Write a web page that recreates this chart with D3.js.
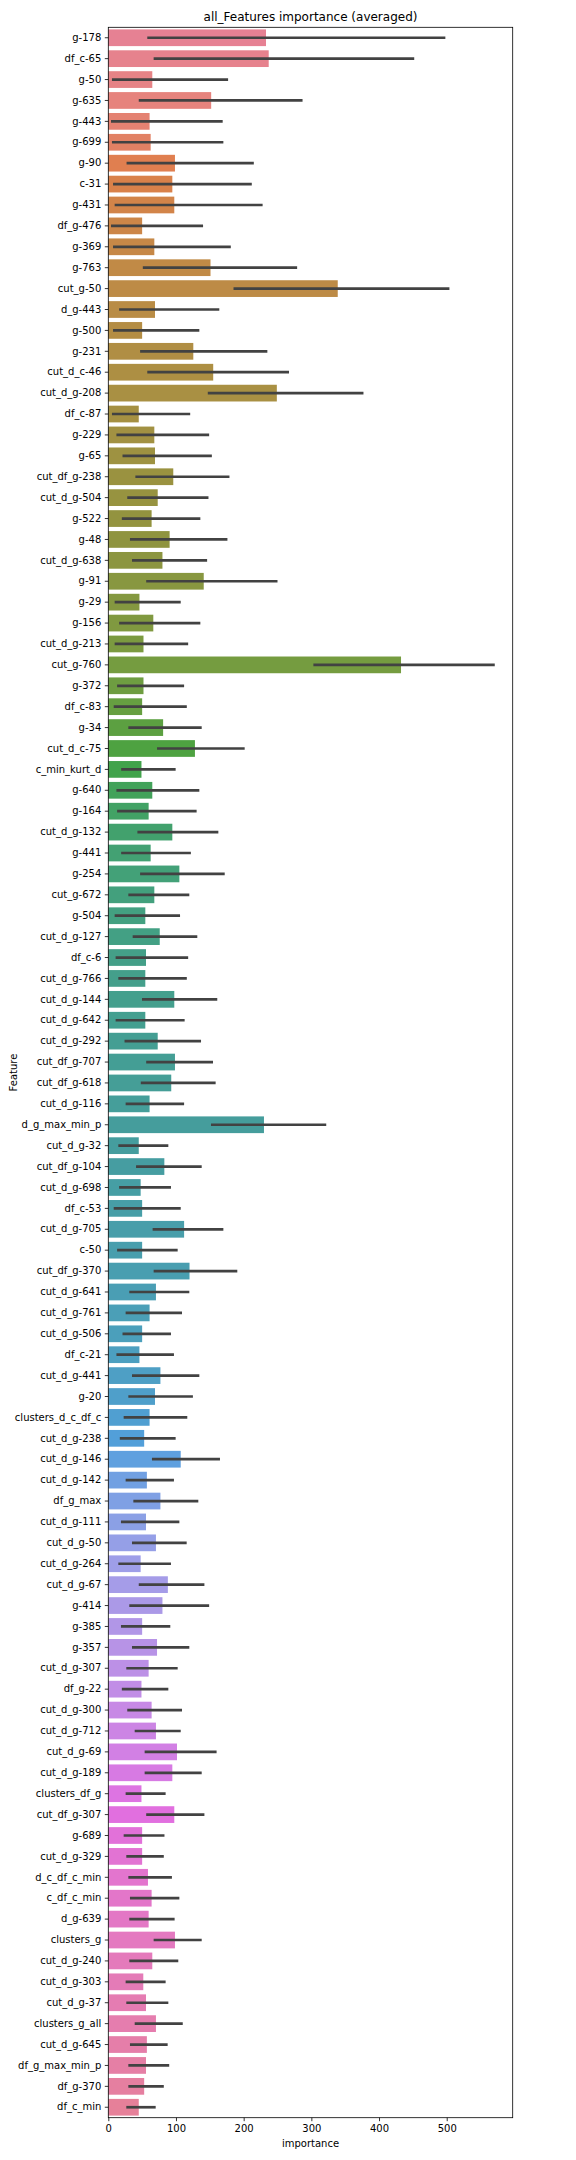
<!DOCTYPE html>
<html>
<head>
<meta charset="UTF-8">
<title>all_Features importance (averaged)</title>
<script src="https://d3js.org/d3.v7.min.js"></script>
<style>
	body { margin: 0; background: #fff; }
	svg { font-family: "DejaVu Sans", sans-serif; display: block; }
</style>
</head>
<body>
<svg id="chart"></svg>
<script type="text/javascript">
	var features = ["g-178", "df_c-65", "g-50", "g-635", "g-443", "g-699", "g-90", "c-31", "g-431", "df_g-476",
		"g-369", "g-763", "cut_g-50", "d_g-443", "g-500", "g-231", "cut_d_c-46", "cut_d_g-208", "df_c-87", "g-229",
		"g-65", "cut_df_g-238", "cut_d_g-504", "g-522", "g-48", "cut_d_g-638", "g-91", "g-29", "g-156", "cut_d_g-213",
		"cut_g-760", "g-372", "df_c-83", "g-34", "cut_d_c-75", "c_min_kurt_d", "g-640", "g-164", "cut_d_g-132", "g-441",
		"g-254", "cut_g-672", "g-504", "cut_d_g-127", "df_c-6", "cut_d_g-766", "cut_d_g-144", "cut_d_g-642", "cut_d_g-292", "cut_df_g-707",
		"cut_df_g-618", "cut_d_g-116", "d_g_max_min_p", "cut_d_g-32", "cut_df_g-104", "cut_d_g-698", "df_c-53", "cut_d_g-705", "c-50", "cut_df_g-370",
		"cut_d_g-641", "cut_d_g-761", "cut_d_g-506", "df_c-21", "cut_d_g-441", "g-20", "clusters_d_c_df_c", "cut_d_g-238", "cut_d_g-146", "cut_d_g-142",
		"df_g_max", "cut_d_g-111", "cut_d_g-50", "cut_d_g-264", "cut_d_g-67", "g-414", "g-385", "g-357", "cut_d_g-307", "df_g-22",
		"cut_d_g-300", "cut_d_g-712", "cut_d_g-69", "cut_d_g-189", "clusters_df_g", "cut_df_g-307", "g-689", "cut_d_g-329", "d_c_df_c_min", "c_df_c_min",
		"d_g-639", "clusters_g", "cut_d_g-240", "cut_d_g-303", "cut_d_g-37", "clusters_g_all", "cut_d_g-645", "df_g_max_min_p", "df_g-370", "df_c_min"];

	var importance = [233, 237, 65, 152, 61, 62.6, 98.5, 94.6, 97.5, 50,
		68, 151, 339, 69, 50, 125.6, 155, 249, 45, 68,
		69, 96, 73, 64, 90.6, 80, 141, 46, 66.5, 52,
		432.5, 52, 50, 81, 128, 49, 65, 59.6, 94.6, 62.6,
		105, 68, 54.7, 76, 55.7, 54.7, 97.5, 54.7, 73, 98.5,
		93, 61, 230, 45, 82.8, 47.8, 50, 112, 50, 120,
		70.4, 61, 50, 46, 77, 69, 61, 53, 107, 57,
		77, 55.7, 70.4, 47.8, 88, 80, 50, 72, 59.6, 49,
		64, 70.4, 101.5, 94.6, 49, 97.5, 50, 50, 58.6, 64,
		59.6, 98.5, 65, 51.7, 55.7, 70.4, 57, 55.7, 53, 45];

	var ciLow = [57.6, 67, 5.4, 45, 4, 5.4, 27, 7, 9.4, 4,
		7, 51, 185, 16, 7, 47, 57.6, 147, 5.4, 12,
		21, 40, 28, 20, 32, 35, 56, 9.4, 16, 9.4,
		303, 13, 8, 29.6, 72, 19, 12, 13, 43, 19,
		47, 29.6, 9.4, 36, 10.8, 14.8, 49.8, 10.8, 24, 56,
		48, 25.6, 151.7, 14.8, 41, 16, 8, 65.5, 13, 67,
		31, 25.6, 21, 12, 35, 29.6, 22.7, 17, 64.5, 25.6,
		37, 18.7, 35, 14.8, 45, 31, 18.7, 35, 26.6, 20,
		28, 39, 53.7, 53.7, 25.6, 56, 22.7, 26.6, 29.6, 32,
		31, 67, 31, 25.6, 26.6, 39, 32, 29.6, 29.6, 26.6];

	var ciHigh = [498, 452, 177, 287, 169, 170, 215, 212, 228, 140,
		181, 279, 504, 164, 134.5, 235, 267, 377, 121, 149,
		153, 179, 148, 136, 176, 146, 250, 107, 136, 118,
		571, 112, 116, 138, 201.5, 99.5, 134.5, 130.5, 162.6, 122,
		172, 119.7, 106, 131.5, 118, 116, 161, 112.8, 137, 154.7,
		158.6, 112, 322, 88.7, 138, 92.6, 107, 170, 102.5, 190.6,
		119.7, 108.9, 92.6, 97, 134.5, 125, 116.7, 99.5, 165, 97,
		133, 105, 115.8, 92.6, 142, 149, 91.6, 119.7, 102.5, 88.7,
		108.9, 107, 160, 138, 84.7, 142, 83, 82, 94, 105,
		98, 138, 103.4, 84.7, 88.7, 110, 87.7, 90, 82, 70];

	var xTicks = [0, 100, 200, 300, 400, 500];
	var xMax = 597.5;

	// husl -> rgb, same maths as the python husl package used by seaborn
	var M = [[3.2406, -1.5372, -0.4986], [-0.9689, 1.8758, 0.0415], [0.0557, -0.2040, 1.0570]];
	var refU = 0.19784, refV = 0.46834, labE = 0.008856, labK = 903.3;

	function maxChroma(L, H)
	{
		var hrad = H / 360 * 2 * Math.PI;
		var sinH = Math.sin(hrad), cosH = Math.cos(hrad);
		var sub1 = Math.pow(L + 16, 3) / 1560896;
		var sub2 = sub1 > labE ? sub1 : L / labK;
		var result = Infinity;
		M.forEach(function(row)
		{
			var tp = (0.99915 * row[0] + 1.05122 * row[1] + 1.14460 * row[2]) * sub2;
			var rbottom = 0.86330 * row[2] - 0.17266 * row[1];
			var lbottom = 0.12949 * row[2] - 0.38848 * row[0];
			var bt = (rbottom * sinH + lbottom * cosH) * sub2;
			[0, 1].forEach(function(t)
			{
				var C = L * (tp - 1.05122 * t) / (bt + 0.17266 * sinH * t);
				if (C > 0 && C < result) result = C;
			});
		});
		return result;
	}

	function huslToRgb(H, S, L)
	{
		var C = maxChroma(L, H) / 100 * S;
		var hrad = H / 360 * 2 * Math.PI;
		var U = Math.cos(hrad) * C, V = Math.sin(hrad) * C;
		var t = (L + 16) / 116;
		var Y = Math.pow(t, 3) > labE ? Math.pow(t, 3) : (116 * t - 16) / labK;
		var varU = U / (13 * L) + refU, varV = V / (13 * L) + refV;
		var X = -(9 * Y * varU) / ((varU - 4) * varV - varU * varV);
		var Z = (9 * Y - 15 * varV * Y - varV * X) / (3 * varV);
		return M.map(function(row)
		{
			var c = row[0] * X + row[1] * Y + row[2] * Z;
			c = c <= 0.0031308 ? 12.92 * c : 1.055 * Math.pow(c, 1 / 2.4) - 0.055;
			return Math.max(0, Math.min(1, c));
		});
	}

	function huslPalette(n)
	{
		return d3.range(n).map(function(i)
		{
			var h = ((i / n + 0.01) % 1) * 359;
			var rgb = huslToRgb(h, 0.9 * 99, 0.65 * 99);
			var c = d3.hsl(d3.rgb(rgb[0] * 255, rgb[1] * 255, rgb[2] * 255));
			c.s *= 0.75; // seaborn barplot saturation
			return c.formatHex();
		});
	}

	var svgWidth = 576, svgHeight = 2160;
	var axLeft = 108.3, axRight = 512.7, axTop = 27.3, axBottom = 2117.7;

	var data = features.map(function(f, i)
	{
		return { name: f, value: importance[i], lo: ciLow[i], hi: ciHigh[i] };
	});
	var colors = huslPalette(features.length);

	var svg = d3.select('#chart').attr('width', svgWidth).attr('height', svgHeight);

	var x = d3.scaleLinear().domain([0, xMax]).range([axLeft, axRight]);
	var y = d3.scaleBand().domain(features).range([axTop, axBottom]).paddingInner(0.2).paddingOuter(0.1);

	//bars
	svg.append('g').selectAll('rect').data(data).enter().append('rect')
		.attr('x', x(0))
		.attr('y', function(d) { return y(d.name); })
		.attr('width', function(d) { return x(d.value) - x(0); })
		.attr('height', y.bandwidth())
		.attr('fill', function(d, i) { return colors[i]; });

	//error bars
	svg.append('g').selectAll('line').data(data).enter().append('line')
		.attr('x1', function(d) { return x(d.lo); })
		.attr('x2', function(d) { return x(d.hi); })
		.attr('y1', function(d) { return y(d.name) + y.bandwidth() / 2; })
		.attr('y2', function(d) { return y(d.name) + y.bandwidth() / 2; })
		.attr('stroke', '#424242')
		.attr('stroke-width', 2.7);

	//axes
	var xAxis = svg.append('g').attr('transform', 'translate(0,' + axBottom + ')')
		.call(d3.axisBottom(x).tickValues(xTicks).tickSize(3.5).tickPadding(3.5).tickSizeOuter(0));
	var yAxis = svg.append('g').attr('transform', 'translate(' + axLeft + ',0)')
		.call(d3.axisLeft(y).tickSize(3.5).tickPadding(3.5).tickSizeOuter(0));
	[xAxis, yAxis].forEach(function(a)
	{
		a.select('.domain').remove();
		a.selectAll('line').attr('stroke', '#000').attr('stroke-width', 0.8);
		a.selectAll('text').attr('fill', '#000').style('font-size', '10px').style('font-family', '"DejaVu Sans", sans-serif');
	});

	//frame
	svg.append('rect')
		.attr('x', axLeft).attr('y', axTop)
		.attr('width', axRight - axLeft).attr('height', axBottom - axTop)
		.attr('fill', 'none').attr('stroke', '#000').attr('stroke-width', 0.8);

	svg.append('text')
		.attr('x', (axLeft + axRight) / 2).attr('y', axTop - 6)
		.attr('text-anchor', 'middle')
		.style('font-size', '12px')
		.text('all_Features importance (averaged)');

	svg.append('text')
		.attr('x', (axLeft + axRight) / 2).attr('y', 2147)
		.attr('text-anchor', 'middle')
		.style('font-size', '10px')
		.text('importance');

	svg.append('text')
		.attr('transform', 'translate(17,' + ((axTop + axBottom) / 2) + ') rotate(-90)')
		.attr('text-anchor', 'middle')
		.style('font-size', '10px')
		.text('Feature');
</script>
</body>
</html>
